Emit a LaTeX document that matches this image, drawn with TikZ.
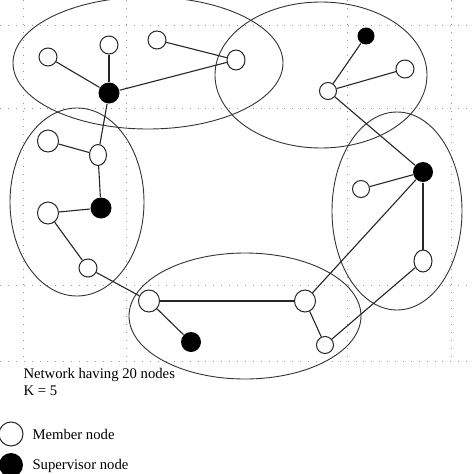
\documentclass[tikz,border=0pt]{standalone}
\usepackage{fontspec}
\setmainfont{Liberation Serif}
\usepackage{tikz}
\usetikzlibrary{shapes.geometric}

\begin{document}
\begin{tikzpicture}
    [x=1pt, y=-1pt, line width=1pt,
    member/.style = {ellipse, draw=black!85, fill=white, inner sep=0pt,
      minimum width=18pt, minimum height=18pt},
    super/.style = {circle, fill=black, inner sep=0pt, minimum size=21pt},
    grid/.style = {draw=black!40, line width=0.9pt, dash pattern=on 0.9pt off 7pt},
    cluster/.style = {draw=black!80, line width=0.9pt},
    link/.style = {draw=black!85, line width=1.1pt},
    desc/.style = {anchor=base west, inner sep=0pt, font=\fontsize{14.7}{17}\selectfont}]

  \useasboundingbox (0,0) rectangle (474,474);

  % dotted grid
  \foreach \gx in {23,126,347,451}
    \draw[grid] (\gx,0) -- (\gx,361);
  \foreach \gy in {25,108,285,361}
    \draw[grid] (0,\gy) -- (474,\gy);

  % clusters
  \draw[cluster] (148,63) ellipse [x radius=135pt, y radius=66pt];
  \draw[cluster] (321,75) ellipse [x radius=106pt, y radius=73pt];
  \draw[cluster] (77,202) ellipse [x radius=67pt, y radius=94pt];
  \draw[cluster] (397,211) ellipse [x radius=65pt, y radius=99pt];
  \draw[cluster] (245,316) ellipse [x radius=116pt, y radius=63pt];

  % supervisor nodes
  \node[super] (s1) at (109,93) {};
  \node[super] (s2) at (101,208) {};
  \node[super, minimum size=17pt] (s3) at (366,36) {};
  \node[super, minimum size=20pt] (s4) at (423,172) {};
  \node[super, minimum size=20pt] (s5) at (191,342) {};

  % member nodes
  \node[member] (a) at (48,57) {};
  \node[member] (b) at (109,45) {};
  \node[member] (c) at (157,40) {};
  \node[member, minimum height=20pt] (d) at (236,60) {};
  \node[member, minimum width=21pt, minimum height=22pt] (e) at (48,141) {};
  \node[member, minimum width=17pt, minimum height=21pt] (f) at (98,155) {};
  \node[member, minimum width=21pt, minimum height=22pt] (g) at (48,213) {};
  \node[member] (h) at (405,69) {};
  \node[member, minimum size=17pt] (i) at (328,91) {};
  \node[member, minimum size=17pt] (j) at (361,189) {};
  \node[member] (k) at (88,268) {};
  \node[member, minimum width=21pt, minimum height=22pt] (l) at (149,301) {};
  \node[member, minimum height=22pt] (m) at (423,261) {};
  \node[member, minimum width=21pt, minimum height=22pt] (n) at (305,301) {};
  \node[member, minimum size=17pt] (o) at (325,345) {};

  % links
  \draw[link] (a) -- (s1);
  \draw[link] (b) -- (s1);
  \draw[link] (c) -- (d);
  \draw[link] (s1) -- (d);
  \draw[link] (s1) -- (f);
  \draw[link] (e) -- (f);
  \draw[link] (f) -- (s2);
  \draw[link] (g) -- (s2);
  \draw[link] (g) -- (k);
  \draw[link] (k) -- (l);
  \draw[link] (l) -- (s5);
  \draw[link] (l) -- (n);
  \draw[link] (s3) -- (i);
  \draw[link] (i) -- (h);
  \draw[link] (i) -- (s4);
  \draw[link] (s4) -- (j);
  \draw[link] (s4) -- (n);
  \draw[link] (s4) -- (m);
  \draw[link] (m) -- (o);
  \draw[link] (n) -- (o);

  % caption and legend
  \node[desc] (cap1) at (23,378) {Network having 20 nodes};
  \node[desc] (cap2) at (23,395) {K = 5};
  \node[member, minimum size=24pt] (key_m) at (11,434) {};
  \node[super, minimum size=24pt] (key_s) at (11,465) {};
  \node[desc] (lbl_m) at (32,439) {Member node};
  \node[desc] (lbl_s) at (32,469) {Supervisor node};

\end{tikzpicture}
\end{document}
